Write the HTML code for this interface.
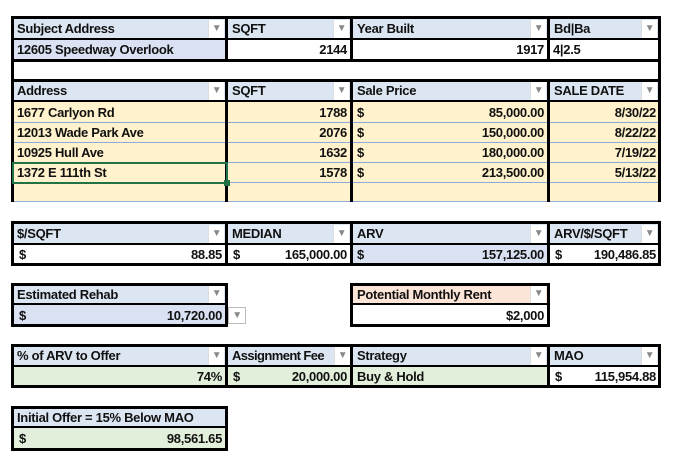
<!DOCTYPE html>
<html><head><meta charset="utf-8"><style>
body{margin:0;width:680px;height:460px;background:#fff;position:relative;overflow:hidden;font-family:"Liberation Sans",sans-serif;font-weight:bold;font-size:13px;color:#111;letter-spacing:-0.3px}
div{position:absolute;box-sizing:border-box}
.c{white-space:nowrap;line-height:19px;padding:0 4px;overflow:hidden}
.r{text-align:right;padding-right:4px}
.h{background:#dce6f2}
.y{background:#fff2cc}
.g{background:#e2efda}
.b{background:#d9e1f2}
.o{background:#fce4d6}
.dd{width:16px;height:18px;background:#fff;border-left:1px solid #ddd;color:#888;font-size:10px;text-align:center;line-height:18px}
.k{background:#000}
.bl{background:#8eaadb;height:1px}
</style></head><body>

<div class="h" style="left:12px;top:17px;width:648px;height:22px"></div>
<div class="b" style="left:12px;top:39px;width:215px;height:21px"></div>
<div class="h" style="left:12px;top:80px;width:648px;height:21px"></div>
<div class="y" style="left:12px;top:101px;width:648px;height:101px"></div>

<div class="c" style="left:13px;top:19px;width:195px">Subject Address</div>
<div class="dd" style="left:208px;top:20px">▼</div>
<div class="c" style="left:228px;top:19px;width:105px">SQFT</div>
<div class="dd" style="left:333px;top:20px">▼</div>
<div class="c" style="left:353px;top:19px;width:177px">Year Built</div>
<div class="dd" style="left:530px;top:20px">▼</div>
<div class="c" style="left:550px;top:19px;width:91px">Bd|Ba</div>
<div class="dd" style="left:641px;top:20px">▼</div>

<div class="c" style="left:13px;top:40px;width:213px">12605 Speedway Overlook</div>
<div class="c r" style="left:228px;top:40px;width:123px">2144</div>
<div class="c r" style="left:353px;top:40px;width:195px">1917</div>
<div class="c" style="left:549px;top:40px;width:110px">4|2.5</div>

<div class="c" style="left:13px;top:81px;width:195px">Address</div>
<div class="dd" style="left:208px;top:82px">▼</div>
<div class="c" style="left:228px;top:81px;width:105px">SQFT</div>
<div class="dd" style="left:333px;top:82px">▼</div>
<div class="c" style="left:353px;top:81px;width:177px">Sale Price</div>
<div class="dd" style="left:530px;top:82px">▼</div>
<div class="c" style="left:550px;top:81px;width:91px">SALE DATE</div>
<div class="dd" style="left:641px;top:82px">▼</div>

<div class="c" style="left:13px;top:103px;width:213px">1677 Carlyon Rd</div>
<div class="c r" style="left:228px;top:103px;width:123px">1788</div>
<div class="c" style="left:353px;top:103px;width:30px">$</div>
<div class="c r" style="left:353px;top:103px;width:195px">85,000.00</div>
<div class="c r" style="left:550px;top:103px;width:110px">8/30/22</div>

<div class="c" style="left:13px;top:123px;width:213px">12013 Wade Park Ave</div>
<div class="c r" style="left:228px;top:123px;width:123px">2076</div>
<div class="c" style="left:353px;top:123px;width:30px">$</div>
<div class="c r" style="left:353px;top:123px;width:195px">150,000.00</div>
<div class="c r" style="left:550px;top:123px;width:110px">8/22/22</div>

<div class="c" style="left:13px;top:143px;width:213px">10925 Hull Ave</div>
<div class="c r" style="left:228px;top:143px;width:123px">1632</div>
<div class="c" style="left:353px;top:143px;width:30px">$</div>
<div class="c r" style="left:353px;top:143px;width:195px">180,000.00</div>
<div class="c r" style="left:550px;top:143px;width:110px">7/19/22</div>

<div class="c" style="left:13px;top:163px;width:213px">1372 E 111th St</div>
<div class="c r" style="left:228px;top:163px;width:123px">1578</div>
<div class="c" style="left:353px;top:163px;width:30px">$</div>
<div class="c r" style="left:353px;top:163px;width:195px">213,500.00</div>
<div class="c r" style="left:550px;top:163px;width:110px">5/13/22</div>

<div class="bl" style="left:13px;top:122px;width:646px"></div>
<div class="bl" style="left:13px;top:142px;width:646px"></div>
<div class="bl" style="left:13px;top:162px;width:646px"></div>
<div class="bl" style="left:13px;top:182px;width:646px"></div>
<div class="bl" style="left:13px;top:201px;width:646px"></div>

<div class="k" style="left:11px;top:16px;width:650px;height:3px"></div>
<div class="k" style="left:11px;top:38px;width:650px;height:2px"></div>
<div class="k" style="left:11px;top:59px;width:650px;height:3px"></div>
<div class="k" style="left:11px;top:79px;width:650px;height:3px"></div>
<div class="k" style="left:11px;top:100px;width:650px;height:2px"></div>
<div class="k" style="left:11px;top:16px;width:3px;height:186px"></div>
<div class="k" style="left:658px;top:16px;width:3px;height:186px"></div>
<div class="k" style="left:225px;top:16px;width:3px;height:45px"></div>
<div class="k" style="left:350px;top:16px;width:3px;height:45px"></div>
<div class="k" style="left:547px;top:16px;width:3px;height:45px"></div>
<div class="k" style="left:225px;top:80px;width:3px;height:122px"></div>
<div class="k" style="left:350px;top:80px;width:3px;height:122px"></div>
<div class="k" style="left:547px;top:80px;width:3px;height:122px"></div>
<div style="left:12px;top:162px;width:216px;height:22px;border:2px solid #217346"></div>
<div style="left:224px;top:180px;width:6px;height:6px;background:#217346"></div>

<div class="h" style="left:12px;top:222px;width:648px;height:22px"></div>
<div style="left:12px;top:244px;width:648px;height:21px;background:#fff"></div>
<div class="b" style="left:351px;top:244px;width:197px;height:21px"></div>
<div class="c" style="left:13px;top:224px;width:195px">$/SQFT</div>
<div class="dd" style="left:208px;top:225px">▼</div>
<div class="c" style="left:228px;top:224px;width:105px">MEDIAN</div>
<div class="dd" style="left:333px;top:225px">▼</div>
<div class="c" style="left:353px;top:224px;width:177px">ARV</div>
<div class="dd" style="left:530px;top:225px">▼</div>
<div class="c" style="left:550px;top:224px;width:91px">ARV/$/SQFT</div>
<div class="dd" style="left:641px;top:225px">▼</div>
<div class="c" style="left:15px;top:245px;width:30px">$</div>
<div class="c r" style="left:13px;top:245px;width:213px">88.85</div>
<div class="c" style="left:229px;top:245px;width:30px">$</div>
<div class="c r" style="left:228px;top:245px;width:123px">165,000.00</div>
<div class="c" style="left:353px;top:245px;width:30px">$</div>
<div class="c r" style="left:353px;top:245px;width:195px">157,125.00</div>
<div class="c" style="left:551px;top:245px;width:30px">$</div>
<div class="c r" style="left:550px;top:245px;width:110px">190,486.85</div>
<div class="k" style="left:11px;top:221px;width:650px;height:3px"></div>
<div class="k" style="left:11px;top:243px;width:650px;height:2px"></div>
<div class="k" style="left:11px;top:263px;width:650px;height:3px"></div>
<div class="k" style="left:11px;top:221px;width:3px;height:45px"></div>
<div class="k" style="left:225px;top:221px;width:3px;height:45px"></div>
<div class="k" style="left:350px;top:221px;width:3px;height:45px"></div>
<div class="k" style="left:547px;top:221px;width:3px;height:45px"></div>
<div class="k" style="left:658px;top:221px;width:3px;height:45px"></div>

<div class="h" style="left:12px;top:284px;width:215px;height:20px"></div>
<div class="b" style="left:12px;top:304px;width:215px;height:21px"></div>
<div class="c" style="left:13px;top:285px;width:195px">Estimated Rehab</div>
<div class="dd" style="left:208px;top:285px">▼</div>
<div class="c" style="left:15px;top:306px;width:30px">$</div>
<div class="c r" style="left:13px;top:306px;width:213px">10,720.00</div>
<div style="left:228px;top:307px;width:18px;height:17px;border:1px solid #bbb;color:#888;font-size:10px;text-align:center;line-height:15px">▼</div>
<div class="k" style="left:11px;top:283px;width:217px;height:3px"></div>
<div class="k" style="left:11px;top:303px;width:217px;height:2px"></div>
<div class="k" style="left:11px;top:324px;width:217px;height:3px"></div>
<div class="k" style="left:11px;top:283px;width:3px;height:44px"></div>
<div class="k" style="left:225px;top:283px;width:3px;height:44px"></div>

<div class="o" style="left:351px;top:284px;width:197px;height:20px"></div>
<div class="c" style="left:353px;top:285px;width:177px">Potential Monthly Rent</div>
<div class="dd" style="left:530px;top:285px">▼</div>
<div class="c r" style="left:353px;top:306px;width:195px">$2,000</div>
<div class="k" style="left:350px;top:283px;width:200px;height:3px"></div>
<div class="k" style="left:350px;top:303px;width:200px;height:2px"></div>
<div class="k" style="left:350px;top:324px;width:200px;height:3px"></div>
<div class="k" style="left:350px;top:283px;width:3px;height:44px"></div>
<div class="k" style="left:547px;top:283px;width:3px;height:44px"></div>

<div class="h" style="left:12px;top:345px;width:648px;height:21px"></div>
<div class="g" style="left:12px;top:366px;width:648px;height:21px"></div>
<div style="left:548px;top:366px;width:112px;height:21px;background:#fff"></div>
<div class="c" style="left:13px;top:346px;width:195px">% of ARV to Offer</div>
<div class="dd" style="left:208px;top:347px">▼</div>
<div class="c" style="left:228px;top:346px;width:107px;letter-spacing:-0.6px">Assignment Fee</div>
<div class="dd" style="left:334px;top:347px">▼</div>
<div class="c" style="left:353px;top:346px;width:177px">Strategy</div>
<div class="dd" style="left:530px;top:347px">▼</div>
<div class="c" style="left:550px;top:346px;width:91px">MAO</div>
<div class="dd" style="left:641px;top:347px">▼</div>
<div class="c r" style="left:13px;top:367px;width:213px">74%</div>
<div class="c" style="left:229px;top:367px;width:30px">$</div>
<div class="c r" style="left:228px;top:367px;width:123px">20,000.00</div>
<div class="c" style="left:353px;top:367px;width:195px">Buy &amp; Hold</div>
<div class="c" style="left:551px;top:367px;width:30px">$</div>
<div class="c r" style="left:550px;top:367px;width:110px">115,954.88</div>
<div class="k" style="left:11px;top:344px;width:650px;height:3px"></div>
<div class="k" style="left:11px;top:365px;width:650px;height:2px"></div>
<div class="k" style="left:11px;top:385px;width:650px;height:3px"></div>
<div class="k" style="left:11px;top:344px;width:3px;height:44px"></div>
<div class="k" style="left:225px;top:344px;width:3px;height:44px"></div>
<div class="k" style="left:350px;top:344px;width:3px;height:44px"></div>
<div class="k" style="left:547px;top:344px;width:3px;height:44px"></div>
<div class="k" style="left:658px;top:344px;width:3px;height:44px"></div>

<div class="h" style="left:12px;top:407px;width:215px;height:20px"></div>
<div class="g" style="left:12px;top:427px;width:215px;height:22px"></div>
<div class="c" style="left:13px;top:408px;width:213px">Initial Offer = 15% Below MAO</div>
<div class="c" style="left:15px;top:429px;width:30px">$</div>
<div class="c r" style="left:13px;top:429px;width:213px">98,561.65</div>
<div class="k" style="left:11px;top:406px;width:217px;height:3px"></div>
<div class="k" style="left:11px;top:426px;width:217px;height:2px"></div>
<div class="k" style="left:11px;top:448px;width:217px;height:3px"></div>
<div class="k" style="left:11px;top:406px;width:3px;height:45px"></div>
<div class="k" style="left:225px;top:406px;width:3px;height:45px"></div>

</body></html>
